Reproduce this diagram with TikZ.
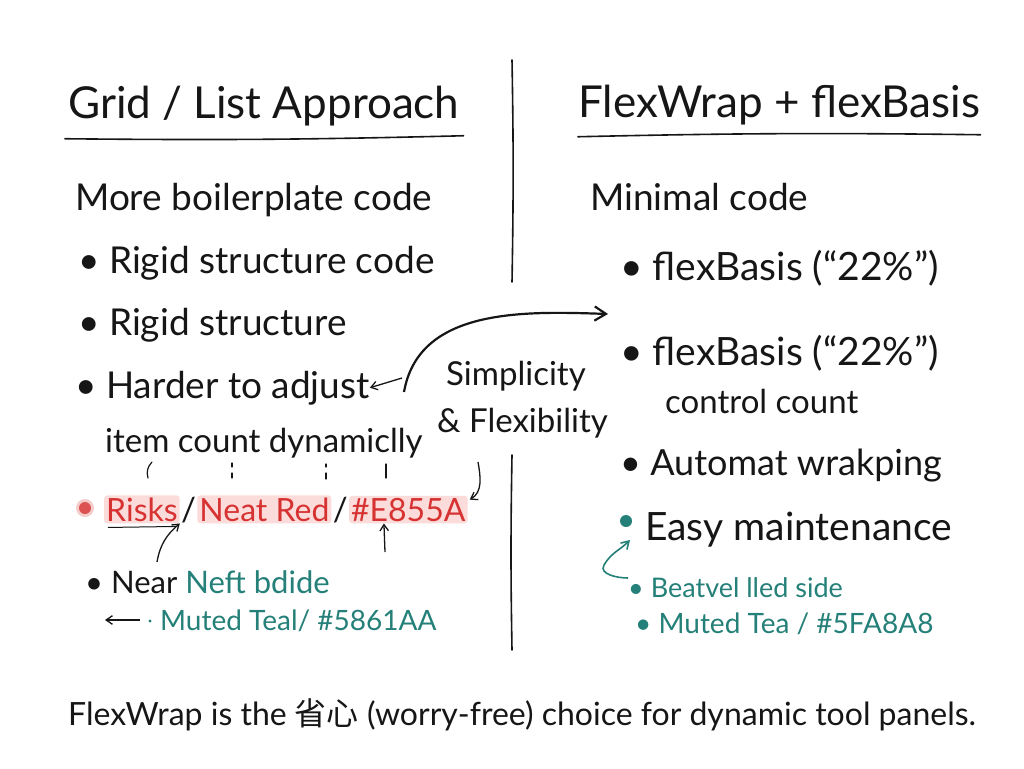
\documentclass[tikz,border=0pt]{standalone}
\usepackage{fontspec}
\setmainfont{Lato}
\newfontfamily\cjk{Noto Sans CJK SC}
\usetikzlibrary{positioning,arrows.meta,calc}
\definecolor{ink}{RGB}{22,22,22}
\definecolor{riskred}{RGB}{214,50,50}
\definecolor{riskfill}{RGB}{252,220,218}
\definecolor{mutedteal}{RGB}{36,128,120}
\tikzset{
  headtext/.style={anchor=base west, inner sep=0pt, text=ink,
    font=\fontsize{44}{48}\selectfont},
  itemtext/.style={anchor=base west, inner sep=0pt, text=ink,
    font=\fontsize{37}{40}\selectfont},
  notetext/.style={anchor=base west, inner sep=0pt, text=mutedteal,
    font=\fontsize{28}{32}\selectfont},
  hl/.style={fill=riskfill, text=riskred, rounded corners=3pt, inner sep=2pt,
    anchor=base west, font=\fontsize{32}{36}\selectfont},
  slash/.style={inner sep=1pt, text=ink, font=\fontsize{33}{36}\selectfont},
  rule/.style={line width=1.6pt, draw=ink, line cap=round},
  flow/.style={-{Straight Barb[length=4mm,width=5mm]}, line width=2.2pt, draw=ink},
  smallflow/.style={-{Straight Barb[length=2.2mm,width=3mm]}, line width=1.3pt, draw=ink},
  tealflow/.style={-{Straight Barb[length=2.6mm,width=3.2mm]}, line width=1.6pt, draw=mutedteal},
  tick/.style={line width=1.2pt, draw=ink, line cap=round},
}
\begin{document}
\begin{tikzpicture}[x=1pt,y=-1pt]
  \useasboundingbox[fill=white] (0,0) rectangle (1024,768);
  % titles
  \node[headtext] (gridTitle) at (68,118) {Grid / List Approach};
  \node[headtext] (flexTitle) at (578,117) {FlexWrap + flexBasis};
  \draw[rule] ($(gridTitle.south west)+(-3,13)$) to[bend right=1] ($(gridTitle.south east)+(4,10)$);
  \draw[rule] ($(flexTitle.south west)+(0,12)$) to[bend left=1] ($(flexTitle.south east)+(0,10)$);
  % divider
  \coordinate (divTop) at (512,60);
  \coordinate (divMid) at (512,282);
  \coordinate (divLow) at (512,455);
  \coordinate (divEnd) at (512,650);
  \draw[rule] (divTop) to[bend left=1] (divMid);
  \draw[rule] (divLow) to[bend right=1] (divEnd);
  % left column
  \node[itemtext] (leftHead) at (75,210) {More boilerplate code};
  \node[itemtext] (rigidA) at (78,273) {• Rigid structure code};
  \node[itemtext] (rigidB) at (78,335) {• Rigid structure};
  \node[itemtext] (harder) at (75,398) {• Harder to adjust};
  \node[itemtext, font=\fontsize{33}{36}\selectfont] (itemCount) at (105,452) {item count dynamiclly};
  % red line
  \fill[riskred!25] (85,508) circle (9);
  \fill[riskred!85] (85,508) circle (6);
  \node[hl] (risks) at (104,521) {Risks};
  \node[slash, base right=0pt of risks] (slashA) {/};
  \node[hl, base right=0pt of slashA] (neatRed) {Neat Red};
  \node[slash, base right=0pt of neatRed] (slashB) {/};
  \node[hl, base right=0pt of slashB] (hexRed) {\#E855A};
  \draw[line width=1pt, draw=ink] ($(risks.south west)+(4,4)$) -- ($(risks.south east)+(-4,3)$);
  \draw[tick] (152,462) to[bend right=30] (148,478);
  \draw[tick] (232,463) -- (232,467) (232,473) -- (232,478);
  \draw[tick] (326,464) -- (326,467) (326,473) -- (326,479);
  \draw[tick] (386,464) -- (386,478);
  \coordinate (hexHook) at (478,462);
  \draw[smallflow] (hexHook) to[out=-80,in=30] ($(hexRed.north east)+(2,4)$);
  \coordinate (risksFoot) at (157,562);
  \draw[smallflow] (risksFoot) to[out=80,in=-140] (risks.south east);
  \coordinate (hexFoot) at (385,552);
  \draw[smallflow] (hexFoot) -- ($(hexRed.south west)+(35,0)$);
  \node[itemtext, font=\fontsize{31}{34}\selectfont] (nearLine) at (85,593)
    {• Near \textcolor{mutedteal}{Neft bdide}};
  \node[notetext] (mutedLeft) at (160,630) {Muted Teal/ \#5861AA};
  \fill[mutedteal] (150,621) circle (1.6);
  \coordinate (mutedTail) at (140,620);
  \draw[smallflow] (mutedTail) -- ++(-35,0);
  % right column
  \node[itemtext] (minimal) at (590,210) {Minimal code};
  \node[itemtext, font=\fontsize{39}{42}\selectfont] (basisA) at (620,280) {• flexBasis (“22\%”)};
  \node[itemtext, font=\fontsize{39}{42}\selectfont] (basisB) at (620,365) {• flexBasis (“22\%”)};
  \node[itemtext, font=\fontsize{33}{36}\selectfont] (control) at (665,413) {control count};
  \node[itemtext, font=\fontsize{36}{40}\selectfont] (automat) at (620,475) {• Automat wrakping};
  \node[itemtext, font=\fontsize{39}{42}\selectfont] (easy) at (645,540) {Easy maintenance};
  \fill[mutedteal] (626,521) circle (6);
  \coordinate (tealTail) at (628,578);
  \draw[tealflow] (tealTail) to[out=180,in=-120] (604,565) to[out=60,in=-135] (630,540);
  \node[notetext, font=\fontsize{27}{30}\selectfont] (beatvel) at (628,597) {• Beatvel lled side};
  \node[notetext] (mutedRight) at (635,633) {• Muted Tea / \#5FA8A8};
  % middle
  \node[itemtext, font=\fontsize{33}{36}\selectfont] (simp) at (446,385) {Simplicity};
  \node[itemtext, font=\fontsize{33}{36}\selectfont] (flexi) at (437,432) {\& Flexibility};
  \coordinate (swingFrom) at (404,392);
  \coordinate (swingTo) at (608,314);
  \draw[flow] (swingFrom) to[out=80,in=178] (swingTo);
  \draw[smallflow] ($(swingFrom)+(-2,-14)$) -- (harder.east);
  % bottom line
  \node[itemtext, font=\fontsize{32}{36}\selectfont] (summary) at (68,725)
    {FlexWrap is the {\cjk 省心} (worry-free) choice for dynamic tool panels.};
\end{tikzpicture}
\end{document}
